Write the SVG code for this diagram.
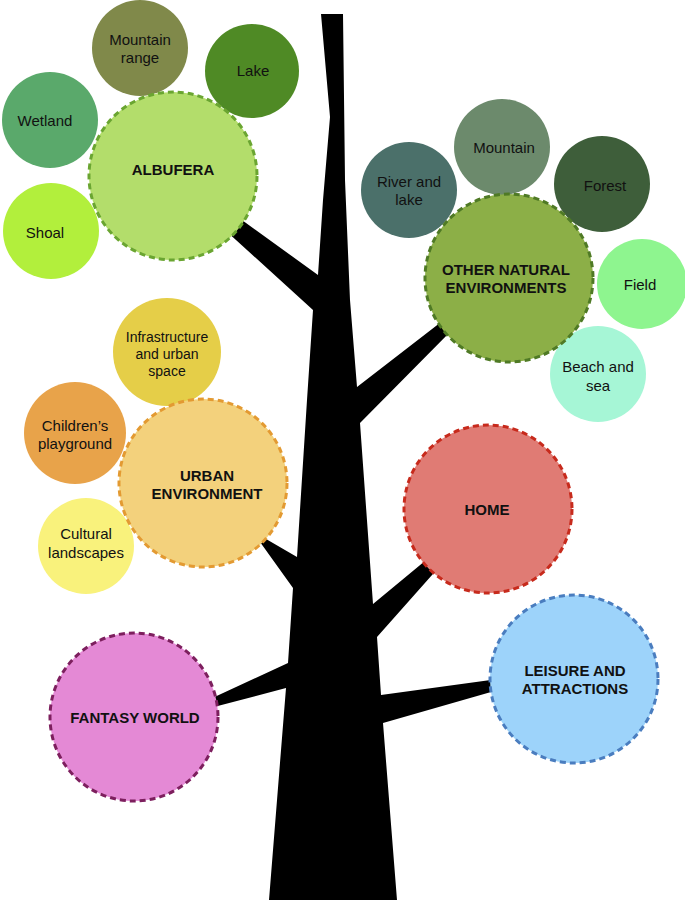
<svg xmlns="http://www.w3.org/2000/svg" width="685" height="902" viewBox="0 0 685 902">
<style>
.t{font-family:"Liberation Sans",Arial,sans-serif;font-size:15px;fill:#111;text-anchor:middle}
.b{font-weight:bold}
.s{font-size:14px}
.main{stroke-width:3;stroke-dasharray:6 4}
</style>
<rect width="685" height="902" fill="#fff"/>
<g id="connectors">
<path id="trunk" fill="#000" d="M321,14 L343,14 L345,180 L350,300 L357,387 L445,319 L453,329 L360,423 L373,604 L431,556 L440,566 L377,637 L381,695 L498,679 L498,690 L383,723 L397,900 L269,900 L286,688 L210,708 L208,700 L288,663 L293,588 L255,535 L254,532 L297,557 L307,400 L313,310 L225,230 L235,215 L318,275 L323,200 L330,117 Z"/>
</g>
<g id="mountain-range"><circle cx="140" cy="48" r="48" fill="#80894a"/><text class="t" x="140" y="45">Mountain</text><text class="t" x="140" y="63">range</text></g>
<g id="lake"><circle cx="252" cy="71" r="47" fill="#4f8a25"/><text class="t" x="253" y="76">Lake</text></g>
<g id="wetland"><circle cx="50" cy="120" r="48" fill="#5aa96b"/><text class="t" x="45" y="126">Wetland</text></g>
<g id="shoal"><circle cx="51" cy="231" r="48" fill="#b2ef3c"/><text class="t" x="45" y="238">Shoal</text></g>
<g id="albufera"><circle class="main" cx="173" cy="176" r="84" fill="#b3dd6b" stroke="#6aa531"/><text class="t b" x="173" y="175">ALBUFERA</text></g>
<g id="mountain"><circle cx="502" cy="147" r="48" fill="#6c8a6c"/><text class="t" x="504" y="153">Mountain</text></g>
<g id="river-lake"><circle cx="409" cy="190" r="48" fill="#4b706a"/><text class="t" x="409" y="187">River and</text><text class="t" x="409" y="205">lake</text></g>
<g id="forest"><circle cx="602" cy="184" r="48" fill="#3e5e3a"/><text class="t" x="605" y="191">Forest</text></g>
<g id="field"><circle cx="642" cy="284" r="45" fill="#8ef58f"/><text class="t" x="640" y="290">Field</text></g>
<g id="beach-sea"><circle cx="598" cy="374" r="48" fill="#a6f6d6"/><text class="t" x="598" y="372">Beach and</text><text class="t" x="598" y="391">sea</text></g>
<g id="other-natural"><circle class="main" cx="509" cy="278" r="84" fill="#8caf47" stroke="#4f7a25"/><text class="t b" x="506" y="275">OTHER NATURAL</text><text class="t b" x="506" y="293">ENVIRONMENTS</text></g>
<g id="infrastructure"><circle cx="167" cy="352" r="54" fill="#e5ce48"/><text class="t s" x="167" y="342">Infrastructure</text><text class="t s" x="167" y="359">and urban</text><text class="t s" x="167" y="376">space</text></g>
<g id="playground"><circle cx="75" cy="433" r="51" fill="#e8a34a"/><text class="t" x="75" y="431">Children’s</text><text class="t" x="75" y="449">playground</text></g>
<g id="cultural"><circle cx="86" cy="546" r="48" fill="#f9f27c"/><text class="t" x="86" y="539">Cultural</text><text class="t" x="86" y="558">landscapes</text></g>
<g id="urban"><circle class="main" cx="203" cy="483" r="84" fill="#f3d17c" stroke="#e39a32"/><text class="t b" x="207" y="481">URBAN</text><text class="t b" x="207" y="499">ENVIRONMENT</text></g>
<g id="home"><circle class="main" cx="488" cy="509" r="84" fill="#e07b74" stroke="#c72a1c"/><text class="t b" x="487" y="515">HOME</text></g>
<g id="leisure"><circle class="main" cx="574" cy="679" r="84" fill="#9dd3fa" stroke="#4a7dbf"/><text class="t b" x="575" y="676">LEISURE AND</text><text class="t b" x="575" y="694">ATTRACTIONS</text></g>
<g id="fantasy"><circle class="main" cx="134" cy="717" r="84" fill="#e489d5" stroke="#7d1f5e"/><text class="t b" x="135" y="723">FANTASY WORLD</text></g>
</svg>
